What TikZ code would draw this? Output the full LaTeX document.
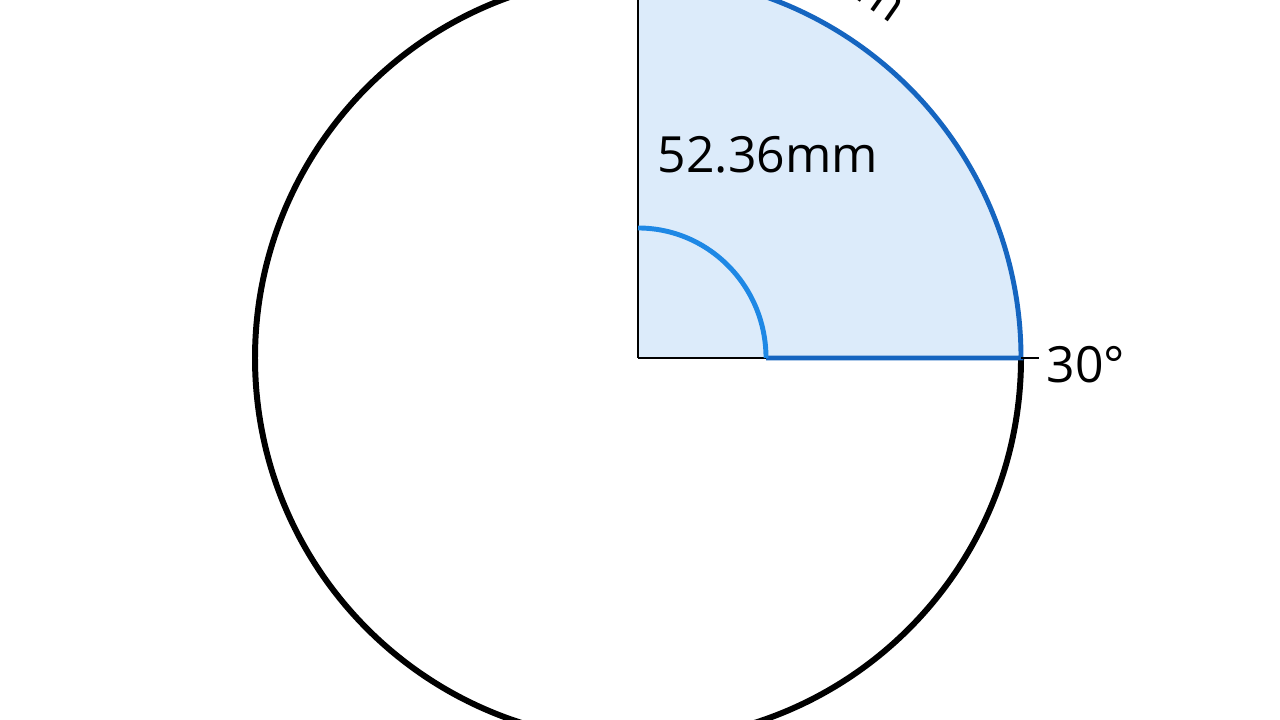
\documentclass[tikz,border=0pt]{standalone}
\usepackage{fontspec}
\setmainfont{Open Sans}
\usepackage{xcolor}
\usetikzlibrary{calc}

\definecolor{settore}{HTML}{DCEBFA}
\definecolor{arcoblu}{HTML}{1565C0}
\definecolor{angblu}{HTML}{1E88E5}

\tikzset{
  cerchio/.style = {draw=black, line width=1.7pt},
  raggio/.style  = {draw=black, line width=0.6pt},
  bordoblu/.style = {draw=arcoblu, line width=1.4pt},
  angolo/.style  = {draw=angblu, line width=1.4pt},
  etichetta/.style = {font=\fontsize{14.2}{16}\selectfont, text=black, inner sep=0pt},
}

\begin{document}
\begin{tikzpicture}
    \useasboundingbox (0,0) rectangle (12.8,7.2);
    \clip (0,0) rectangle (12.8,7.2);
    \fill[white] (0,0) rectangle (12.8,7.2);

    % Definizione dei punti
    \coordinate (O) at (6.38,3.62);          % centro
    \coordinate (E) at ($(O)+(3.83,0)$);     % estremo destro
    \coordinate (N) at ($(O)+(0,3.83)$);     % estremo alto
    \coordinate (Ei) at ($(O)+(1.28,0)$);    % arco interno
    \coordinate (Ni) at ($(O)+(0,1.30)$);
    \coordinate (T) at ($(E)+(0.18,0)$);     % tacca

    % Settore
    \fill[settore] (O) -- (E) arc[start angle=0, end angle=90, radius=3.83] -- cycle;

    % Raggi
    \draw[raggio] (O) -- (N);
    \draw[raggio] (O) -- (Ei);

    % Cerchio e archi
    \draw[cerchio] (N) arc[start angle=90, end angle=360, radius=3.83];
    \draw[bordoblu] (Ei) -- (E) arc[start angle=0, end angle=90, radius=3.83];
    \draw[angolo] (Ei) arc[x radius=1.28, y radius=1.30, start angle=0, end angle=90];
    \draw[raggio] (E) -- (T);

    % Etichette
    \node[etichetta, anchor=base west] (raggiolab) at ($(O)+(0.19,1.85)$) {52.36mm};
    \node[etichetta, anchor=base west] (angololab) at ($(T)+(0.07,-0.25)$) {30°};
    \node[etichetta, anchor=base east, rotate=-35] (arcolab) at (8.92,6.95) {mm};
\end{tikzpicture}
\end{document}
